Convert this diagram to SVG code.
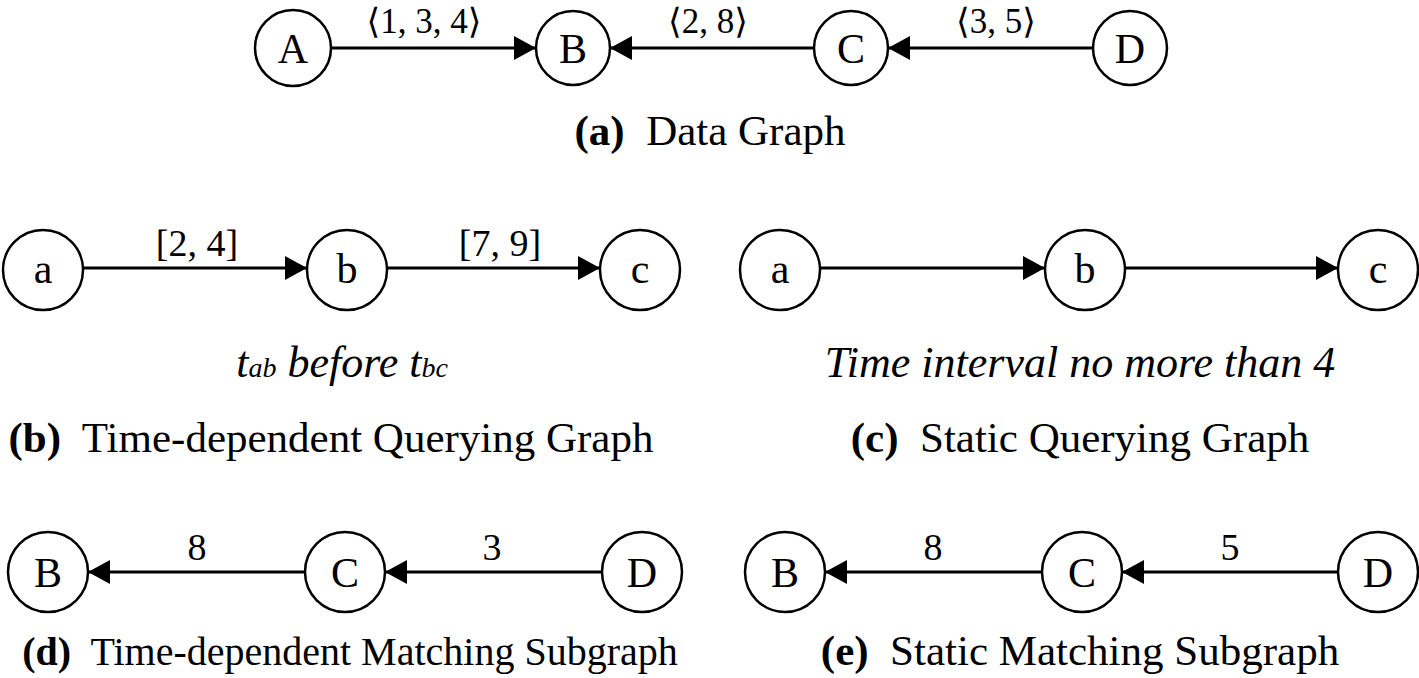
<svg xmlns="http://www.w3.org/2000/svg" width="1419" height="678" viewBox="0 0 1419 678">
<defs>
<marker id="arr" viewBox="0 0 22 24" refX="22" refY="12" markerWidth="22" markerHeight="24" markerUnits="userSpaceOnUse" orient="auto">
<path d="M0,0 L22,12 L0,24 Z" fill="#000"/>
</marker>
<style>
.n{fill:#fff;stroke:#000;stroke-width:2.5}
.nt{font-family:"Liberation Serif","DejaVu Serif",serif;font-size:42px;text-anchor:middle;fill:#000}
.e{stroke:#000;stroke-width:3;fill:none;marker-end:url(#arr)}
.el{font-family:"Liberation Serif","DejaVu Serif",serif;font-size:38px;text-anchor:middle;fill:#000}
.elt{font-family:"Liberation Serif","DejaVu Serif",serif;font-size:35px;text-anchor:middle;fill:#000}
.cap{font-family:"Liberation Serif",serif;font-size:43px;text-anchor:middle;fill:#000}
.capd{font-size:40px}
.b{font-weight:bold}
.it{font-family:"Liberation Serif",serif;font-style:italic;font-size:44px;text-anchor:middle;fill:#000}
</style>
</defs>
<rect width="1419" height="678" fill="#fff"/>
<g id="connectors">
<line class="e" x1="331" y1="48" x2="536" y2="48"/>
<line class="e" x1="814" y1="48" x2="610" y2="48"/>
<line class="e" x1="1093" y1="48" x2="888" y2="48"/>
<line class="e" x1="83" y1="268" x2="307" y2="268"/>
<line class="e" x1="387" y1="268" x2="600" y2="268"/>
<line class="e" x1="820" y1="268" x2="1045" y2="268"/>
<line class="e" x1="1125" y1="268" x2="1338" y2="268"/>
<line class="e" x1="305" y1="572" x2="88" y2="572"/>
<line class="e" x1="602" y1="572" x2="385" y2="572"/>
<line class="e" x1="1042" y1="572" x2="825" y2="572"/>
<line class="e" x1="1338" y1="572" x2="1122" y2="572"/>
<text class="elt" x="424" y="33">⟨1, 3, 4⟩</text>
<text class="elt" x="708" y="33">⟨2, 8⟩</text>
<text class="elt" x="996" y="33">⟨3, 5⟩</text>
<text class="el" x="197" y="256" xml:space="preserve">[2, 4]</text>
<text class="el" x="500" y="256" xml:space="preserve">[7, 9]</text>
<text class="el" x="197" y="560">8</text>
<text class="el" x="492" y="560">3</text>
<text class="el" x="933" y="560">8</text>
<text class="el" x="1230" y="560">5</text>
</g>
<g id="a-A"><circle class="n" cx="293" cy="48" r="38"/><text class="nt" x="293" y="63">A</text></g>
<g id="a-B"><circle class="n" cx="573" cy="48" r="37"/><text class="nt" x="573" y="63">B</text></g>
<g id="a-C"><circle class="n" cx="851" cy="48" r="37"/><text class="nt" x="851" y="63">C</text></g>
<g id="a-D"><circle class="n" cx="1130" cy="48" r="37"/><text class="nt" x="1130" y="63">D</text></g>
<g id="b-a"><circle class="n" cx="43" cy="270" r="40"/><text class="nt" x="43" y="283">a</text></g>
<g id="b-b"><circle class="n" cx="347" cy="270" r="40"/><text class="nt" x="347" y="283">b</text></g>
<g id="b-c"><circle class="n" cx="640" cy="270" r="40"/><text class="nt" x="640" y="283">c</text></g>
<g id="c-a"><circle class="n" cx="780" cy="270" r="40"/><text class="nt" x="780" y="283">a</text></g>
<g id="c-b"><circle class="n" cx="1085" cy="270" r="40"/><text class="nt" x="1085" y="283">b</text></g>
<g id="c-c"><circle class="n" cx="1378" cy="270" r="40"/><text class="nt" x="1378" y="283">c</text></g>
<g id="d-B"><circle class="n" cx="48" cy="572" r="40"/><text class="nt" x="48" y="587">B</text></g>
<g id="d-C"><circle class="n" cx="345" cy="572" r="40"/><text class="nt" x="345" y="587">C</text></g>
<g id="d-D"><circle class="n" cx="642" cy="572" r="40"/><text class="nt" x="642" y="587">D</text></g>
<g id="e-B"><circle class="n" cx="785" cy="572" r="40"/><text class="nt" x="785" y="587">B</text></g>
<g id="e-C"><circle class="n" cx="1082" cy="572" r="40"/><text class="nt" x="1082" y="587">C</text></g>
<g id="e-D"><circle class="n" cx="1378" cy="572" r="40"/><text class="nt" x="1378" y="587">D</text></g>
<g id="notes">
<text class="it" x="342" y="377">t<tspan font-size="28">ab</tspan> before t<tspan font-size="28">bc</tspan></text>
<text class="it" x="1080" y="377">Time interval no more than 4</text>
</g>
<g id="captions">
<text class="cap" x="710" y="145" xml:space="preserve"><tspan class="b">(a)</tspan>  Data Graph</text>
<text class="cap" x="331" y="452" xml:space="preserve"><tspan class="b">(b)</tspan>  Time-dependent Querying Graph</text>
<text class="cap" x="1080" y="452" xml:space="preserve"><tspan class="b">(c)</tspan>  Static Querying Graph</text>
<text class="cap capd" x="350" y="665" xml:space="preserve"><tspan class="b">(d)</tspan>  Time-dependent Matching Subgraph</text>
<text class="cap" x="1080" y="665" xml:space="preserve"><tspan class="b">(e)</tspan>  Static Matching Subgraph</text>
</g>
</svg>
